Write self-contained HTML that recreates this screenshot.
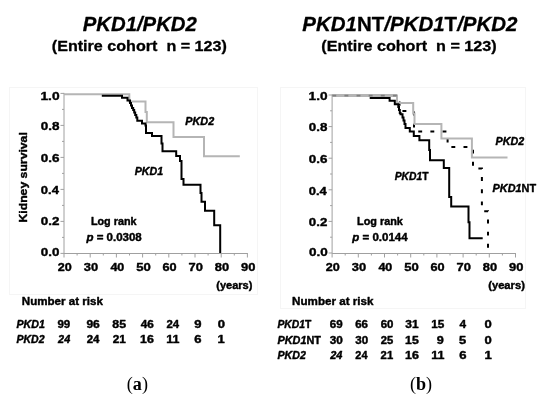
<!DOCTYPE html>
<html><head><meta charset="utf-8"><title>Kidney survival curves</title>
<style>
html,body{margin:0;padding:0;background:#fff;}
svg{display:block;}
text{fill:#000;white-space:pre;}
</style></head>
<body>
<svg width="550" height="400" viewBox="0 0 550 400">
<rect x="0" y="0" width="550" height="400" fill="#fff"/>
<rect x="9.5" y="87.5" width="248" height="207" fill="none" stroke="#f5f5f5" stroke-width="1"/>
<rect x="280.5" y="87.5" width="245" height="221" fill="none" stroke="#f5f5f5" stroke-width="1"/>
<path d="M64.00 92.90V257.50" stroke="#a0a0a0" stroke-width="1" fill="none"/>
<path d="M64.00 253.50H247.90" stroke="#a0a0a0" stroke-width="1" fill="none"/>
<path d="M60.50 253.40H64.00M62.00 237.40H64.00M60.50 221.40H64.00M62.00 205.40H64.00M60.50 189.40H64.00M62.00 173.40H64.00M60.50 157.40H64.00M62.00 141.40H64.00M60.50 125.40H64.00M62.00 109.40H64.00M60.50 93.40H64.00M77.10 253.50V255.50M90.20 253.50V257.50M103.30 253.50V255.50M116.40 253.50V257.50M129.50 253.50V255.50M142.60 253.50V257.50M155.70 253.50V255.50M168.80 253.50V257.50M181.90 253.50V255.50M195.00 253.50V257.50M208.10 253.50V255.50M221.20 253.50V257.50M234.30 253.50V255.50M247.40 253.50V257.50" stroke="#a0a0a0" stroke-width="1" fill="none"/>
<path d="M332.10 94.50V257.50" stroke="#a0a0a0" stroke-width="1" fill="none"/>
<path d="M332.10 253.50H516.00" stroke="#a0a0a0" stroke-width="1" fill="none"/>
<path d="M328.60 253.00H332.10M330.10 237.20H332.10M328.60 221.40H332.10M330.10 205.60H332.10M328.60 189.80H332.10M330.10 174.00H332.10M328.60 158.20H332.10M330.10 142.40H332.10M328.60 126.60H332.10M330.10 110.80H332.10M328.60 95.00H332.10M345.20 253.50V255.50M358.30 253.50V257.50M371.40 253.50V255.50M384.50 253.50V257.50M397.60 253.50V255.50M410.70 253.50V257.50M423.80 253.50V255.50M436.90 253.50V257.50M450.00 253.50V255.50M463.10 253.50V257.50M476.20 253.50V255.50M489.30 253.50V257.50M502.40 253.50V255.50M515.50 253.50V257.50" stroke="#a0a0a0" stroke-width="1" fill="none"/>
<path d="M64 94.2H129.3V101.6H145.5V111.9H146.8V122.2H173.5V137.0H204V156.3H239.8" stroke="#b5b5b5" stroke-width="2" fill="none"/>
<path d="M101.8 95.8H122V97.8H127.5V100.5H130V103H131V105.5H132V108H133.2V110H134.2V112.5H135.2V115H136.3V117.5H137.3V120.7H142V123.4H145.5V125.5H146V133H152V136H161.5V143.5H162.5V151.2H176.2V155.9H180V161H181.5V179H183.5V184.7H200.5V193H201.5V201.8H205V210.8H214.2V225.2H220.2V253" stroke="#000" stroke-width="2" fill="none"/>
<path d="M397 95.6V102.5H399.5V111H414V131.6H447.6V147H473V168.5H481.9V211.2H488V253" stroke="#000" stroke-width="2" fill="none" stroke-dasharray="3.9 8.23" stroke-dashoffset="76.18"/>
<path d="M332 95.6H397V102.9H413.2V113.4H414.5V124.0H441.4V138.5H471.9V157.4H507.5" stroke="#b5b5b5" stroke-width="2" fill="none"/>
<path d="M332 95.5H397" stroke="#b5b5b5" stroke-width="3" fill="none"/>
<path d="M369.7 98.1H389.6V100.7H394.8V104.2H398.3V107H399V110H399.8V113H400.5V114.3H402.5V117.5H403.5V120.5H404.5V124H405.5V128H409.8V131.5H413.8V136H419.4V140.3H429.2V150H430V160.2H443.8V168H449.2V197H451.2V206.6H468.5V222.2H469.5V238.3H482.7" stroke="#000" stroke-width="2" fill="none"/>
<path d="M332 95.6H397" stroke="#6a6a6a" stroke-width="1.6" fill="none" stroke-dasharray="3.9 8.23" stroke-dashoffset="11.83" opacity="0.7"/>
<text id="L_t1" x="82.71" y="31.00" font-size="20.00" textLength="114.18" lengthAdjust="spacingAndGlyphs" style="font-family:'Liberation Sans', Arial, sans-serif;font-weight:bold;font-style:italic;stroke:#000;stroke-width:0.3px;stroke-linejoin:round">PKD1/PKD2</text>
<text id="R_t1" x="302.25" y="31.00" font-size="20.00" textLength="215.27" lengthAdjust="spacingAndGlyphs" style="font-family:'Liberation Sans', Arial, sans-serif;font-weight:bold;font-style:italic;stroke:#000;stroke-width:0.3px;stroke-linejoin:round"><tspan style="font-style:italic;">PKD1</tspan><tspan style="font-style:normal;">NT</tspan><tspan style="font-style:italic;">/PKD1</tspan><tspan style="font-style:normal;">T</tspan><tspan style="font-style:italic;">/PKD2</tspan></text>
<text id="L_t2" x="51.80" y="51.00" font-size="14.70" textLength="175.06" lengthAdjust="spacingAndGlyphs" style="font-family:'Liberation Sans', Arial, sans-serif;font-weight:bold;font-style:normal;stroke:#000;stroke-width:0.3px;stroke-linejoin:round">(Entire cohort&#160; n = 123)</text>
<text id="R_t2" x="321.30" y="51.00" font-size="14.70" textLength="175.38" lengthAdjust="spacingAndGlyphs" style="font-family:'Liberation Sans', Arial, sans-serif;font-weight:bold;font-style:normal;stroke:#000;stroke-width:0.3px;stroke-linejoin:round">(Entire cohort&#160; n = 123)</text>
<text id="L_y0" x="40.75" y="256.00" font-size="11.60" textLength="18.62" lengthAdjust="spacingAndGlyphs" style="font-family:'Liberation Sans', Arial, sans-serif;font-weight:bold;font-style:normal;stroke:#000;stroke-width:0.4px;stroke-linejoin:round">0.0</text>
<text id="L_y1" x="40.76" y="225.00" font-size="11.60" textLength="18.65" lengthAdjust="spacingAndGlyphs" style="font-family:'Liberation Sans', Arial, sans-serif;font-weight:bold;font-style:normal;stroke:#000;stroke-width:0.4px;stroke-linejoin:round">0.2</text>
<text id="L_y2" x="40.83" y="194.00" font-size="11.60" textLength="18.09" lengthAdjust="spacingAndGlyphs" style="font-family:'Liberation Sans', Arial, sans-serif;font-weight:bold;font-style:normal;stroke:#000;stroke-width:0.4px;stroke-linejoin:round">0.4</text>
<text id="L_y3" x="40.77" y="162.00" font-size="11.60" textLength="18.70" lengthAdjust="spacingAndGlyphs" style="font-family:'Liberation Sans', Arial, sans-serif;font-weight:bold;font-style:normal;stroke:#000;stroke-width:0.4px;stroke-linejoin:round">0.6</text>
<text id="L_y4" x="40.78" y="130.00" font-size="11.60" textLength="18.68" lengthAdjust="spacingAndGlyphs" style="font-family:'Liberation Sans', Arial, sans-serif;font-weight:bold;font-style:normal;stroke:#000;stroke-width:0.4px;stroke-linejoin:round">0.8</text>
<text id="L_y5" x="40.47" y="100.00" font-size="11.60" textLength="19.13" lengthAdjust="spacingAndGlyphs" style="font-family:'Liberation Sans', Arial, sans-serif;font-weight:bold;font-style:normal;stroke:#000;stroke-width:0.4px;stroke-linejoin:round">1.0</text>
<text id="R_y0" x="308.91" y="256.00" font-size="11.60" textLength="18.72" lengthAdjust="spacingAndGlyphs" style="font-family:'Liberation Sans', Arial, sans-serif;font-weight:bold;font-style:normal;stroke:#000;stroke-width:0.4px;stroke-linejoin:round">0.0</text>
<text id="R_y1" x="308.82" y="226.00" font-size="11.60" textLength="18.49" lengthAdjust="spacingAndGlyphs" style="font-family:'Liberation Sans', Arial, sans-serif;font-weight:bold;font-style:normal;stroke:#000;stroke-width:0.4px;stroke-linejoin:round">0.2</text>
<text id="R_y2" x="308.81" y="195.00" font-size="11.60" textLength="18.04" lengthAdjust="spacingAndGlyphs" style="font-family:'Liberation Sans', Arial, sans-serif;font-weight:bold;font-style:normal;stroke:#000;stroke-width:0.4px;stroke-linejoin:round">0.4</text>
<text id="R_y3" x="308.80" y="163.00" font-size="11.60" textLength="18.62" lengthAdjust="spacingAndGlyphs" style="font-family:'Liberation Sans', Arial, sans-serif;font-weight:bold;font-style:normal;stroke:#000;stroke-width:0.4px;stroke-linejoin:round">0.6</text>
<text id="R_y4" x="308.82" y="131.00" font-size="11.60" textLength="18.55" lengthAdjust="spacingAndGlyphs" style="font-family:'Liberation Sans', Arial, sans-serif;font-weight:bold;font-style:normal;stroke:#000;stroke-width:0.4px;stroke-linejoin:round">0.8</text>
<text id="R_y5" x="308.58" y="100.00" font-size="11.60" textLength="18.95" lengthAdjust="spacingAndGlyphs" style="font-family:'Liberation Sans', Arial, sans-serif;font-weight:bold;font-style:normal;stroke:#000;stroke-width:0.4px;stroke-linejoin:round">1.0</text>
<text id="L_x0" x="57.80" y="271.00" font-size="11.30" textLength="14.03" lengthAdjust="spacingAndGlyphs" style="font-family:'Liberation Sans', Arial, sans-serif;font-weight:bold;font-style:normal;stroke:#000;stroke-width:0.4px;stroke-linejoin:round">20</text>
<text id="L_x1" x="83.75" y="271.00" font-size="11.30" textLength="14.33" lengthAdjust="spacingAndGlyphs" style="font-family:'Liberation Sans', Arial, sans-serif;font-weight:bold;font-style:normal;stroke:#000;stroke-width:0.4px;stroke-linejoin:round">30</text>
<text id="L_x2" x="110.42" y="271.00" font-size="11.30" textLength="13.93" lengthAdjust="spacingAndGlyphs" style="font-family:'Liberation Sans', Arial, sans-serif;font-weight:bold;font-style:normal;stroke:#000;stroke-width:0.4px;stroke-linejoin:round">40</text>
<text id="L_x3" x="136.16" y="271.00" font-size="11.30" textLength="14.58" lengthAdjust="spacingAndGlyphs" style="font-family:'Liberation Sans', Arial, sans-serif;font-weight:bold;font-style:normal;stroke:#000;stroke-width:0.4px;stroke-linejoin:round">50</text>
<text id="L_x4" x="162.51" y="271.00" font-size="11.30" textLength="14.15" lengthAdjust="spacingAndGlyphs" style="font-family:'Liberation Sans', Arial, sans-serif;font-weight:bold;font-style:normal;stroke:#000;stroke-width:0.4px;stroke-linejoin:round">60</text>
<text id="L_x5" x="188.51" y="271.00" font-size="11.30" textLength="14.36" lengthAdjust="spacingAndGlyphs" style="font-family:'Liberation Sans', Arial, sans-serif;font-weight:bold;font-style:normal;stroke:#000;stroke-width:0.4px;stroke-linejoin:round">70</text>
<text id="L_x6" x="214.79" y="271.00" font-size="11.30" textLength="14.28" lengthAdjust="spacingAndGlyphs" style="font-family:'Liberation Sans', Arial, sans-serif;font-weight:bold;font-style:normal;stroke:#000;stroke-width:0.4px;stroke-linejoin:round">80</text>
<text id="L_x7" x="241.14" y="271.00" font-size="11.30" textLength="14.38" lengthAdjust="spacingAndGlyphs" style="font-family:'Liberation Sans', Arial, sans-serif;font-weight:bold;font-style:normal;stroke:#000;stroke-width:0.4px;stroke-linejoin:round">90</text>
<text id="R_x0" x="325.80" y="271.00" font-size="11.30" textLength="14.03" lengthAdjust="spacingAndGlyphs" style="font-family:'Liberation Sans', Arial, sans-serif;font-weight:bold;font-style:normal;stroke:#000;stroke-width:0.4px;stroke-linejoin:round">20</text>
<text id="R_x1" x="351.75" y="271.00" font-size="11.30" textLength="14.33" lengthAdjust="spacingAndGlyphs" style="font-family:'Liberation Sans', Arial, sans-serif;font-weight:bold;font-style:normal;stroke:#000;stroke-width:0.4px;stroke-linejoin:round">30</text>
<text id="R_x2" x="378.42" y="271.00" font-size="11.30" textLength="13.93" lengthAdjust="spacingAndGlyphs" style="font-family:'Liberation Sans', Arial, sans-serif;font-weight:bold;font-style:normal;stroke:#000;stroke-width:0.4px;stroke-linejoin:round">40</text>
<text id="R_x3" x="404.16" y="271.00" font-size="11.30" textLength="14.58" lengthAdjust="spacingAndGlyphs" style="font-family:'Liberation Sans', Arial, sans-serif;font-weight:bold;font-style:normal;stroke:#000;stroke-width:0.4px;stroke-linejoin:round">50</text>
<text id="R_x4" x="430.51" y="271.00" font-size="11.30" textLength="14.15" lengthAdjust="spacingAndGlyphs" style="font-family:'Liberation Sans', Arial, sans-serif;font-weight:bold;font-style:normal;stroke:#000;stroke-width:0.4px;stroke-linejoin:round">60</text>
<text id="R_x5" x="456.51" y="271.00" font-size="11.30" textLength="14.36" lengthAdjust="spacingAndGlyphs" style="font-family:'Liberation Sans', Arial, sans-serif;font-weight:bold;font-style:normal;stroke:#000;stroke-width:0.4px;stroke-linejoin:round">70</text>
<text id="R_x6" x="482.79" y="271.00" font-size="11.30" textLength="14.28" lengthAdjust="spacingAndGlyphs" style="font-family:'Liberation Sans', Arial, sans-serif;font-weight:bold;font-style:normal;stroke:#000;stroke-width:0.4px;stroke-linejoin:round">80</text>
<text id="R_x7" x="509.14" y="271.00" font-size="11.30" textLength="14.38" lengthAdjust="spacingAndGlyphs" style="font-family:'Liberation Sans', Arial, sans-serif;font-weight:bold;font-style:normal;stroke:#000;stroke-width:0.4px;stroke-linejoin:round">90</text>
<text id="L_ylab" x="27.35" y="222.54" font-size="11.30" textLength="90.37" lengthAdjust="spacingAndGlyphs" transform="rotate(-90 27.35 222.54)" style="font-family:'Liberation Sans', Arial, sans-serif;font-weight:bold;font-style:normal;stroke:#000;stroke-width:0.4px;stroke-linejoin:round">Kidney survival</text>
<text id="L_pkd2" x="185.37" y="125.00" font-size="10.60" textLength="28.79" lengthAdjust="spacingAndGlyphs" style="font-family:'Liberation Sans', Arial, sans-serif;font-weight:bold;font-style:italic;stroke:#000;stroke-width:0.4px;stroke-linejoin:round">PKD2</text>
<text id="L_pkd1" x="134.66" y="175.00" font-size="10.60" textLength="28.45" lengthAdjust="spacingAndGlyphs" style="font-family:'Liberation Sans', Arial, sans-serif;font-weight:bold;font-style:italic;stroke:#000;stroke-width:0.4px;stroke-linejoin:round">PKD1</text>
<text id="R_pkd2" x="495.64" y="145.00" font-size="10.60" textLength="28.61" lengthAdjust="spacingAndGlyphs" style="font-family:'Liberation Sans', Arial, sans-serif;font-weight:bold;font-style:italic;stroke:#000;stroke-width:0.4px;stroke-linejoin:round">PKD2</text>
<text id="R_pkd1t" x="394.69" y="180.00" font-size="10.60" textLength="33.93" lengthAdjust="spacingAndGlyphs" style="font-family:'Liberation Sans', Arial, sans-serif;font-weight:bold;font-style:normal;stroke:#000;stroke-width:0.4px;stroke-linejoin:round"><tspan style="font-style:italic;">PKD1</tspan><tspan style="font-style:normal;">T</tspan></text>
<text id="R_pkd1nt" x="492.53" y="192.00" font-size="10.60" textLength="43.61" lengthAdjust="spacingAndGlyphs" style="font-family:'Liberation Sans', Arial, sans-serif;font-weight:bold;font-style:normal;stroke:#000;stroke-width:0.4px;stroke-linejoin:round"><tspan style="font-style:italic;">PKD1</tspan><tspan style="font-style:normal;">NT</tspan></text>
<text id="L_log" x="90.93" y="225.00" font-size="10.30" textLength="45.58" lengthAdjust="spacingAndGlyphs" style="font-family:'Liberation Sans', Arial, sans-serif;font-weight:bold;font-style:normal;stroke:#000;stroke-width:0.4px;stroke-linejoin:round">Log rank</text>
<text id="L_p" x="86.49" y="241.00" font-size="10.30" textLength="55.27" lengthAdjust="spacingAndGlyphs" style="font-family:'Liberation Sans', Arial, sans-serif;font-weight:bold;font-style:normal;stroke:#000;stroke-width:0.4px;stroke-linejoin:round"><tspan style="font-style:italic;">p</tspan><tspan style="font-style:normal;"> = 0.0308</tspan></text>
<text id="R_log" x="357.08" y="225.00" font-size="10.30" textLength="45.79" lengthAdjust="spacingAndGlyphs" style="font-family:'Liberation Sans', Arial, sans-serif;font-weight:bold;font-style:normal;stroke:#000;stroke-width:0.4px;stroke-linejoin:round">Log rank</text>
<text id="R_p" x="352.25" y="241.00" font-size="10.30" textLength="55.43" lengthAdjust="spacingAndGlyphs" style="font-family:'Liberation Sans', Arial, sans-serif;font-weight:bold;font-style:normal;stroke:#000;stroke-width:0.4px;stroke-linejoin:round"><tspan style="font-style:italic;">p</tspan><tspan style="font-style:normal;"> = 0.0144</tspan></text>
<text id="L_yrs" x="216.30" y="289.00" font-size="10.80" textLength="36.11" lengthAdjust="spacingAndGlyphs" style="font-family:'Liberation Sans', Arial, sans-serif;font-weight:bold;font-style:normal;stroke:#000;stroke-width:0.4px;stroke-linejoin:round">(years)</text>
<text id="R_yrs" x="488.20" y="289.00" font-size="10.80" textLength="36.71" lengthAdjust="spacingAndGlyphs" style="font-family:'Liberation Sans', Arial, sans-serif;font-weight:bold;font-style:normal;stroke:#000;stroke-width:0.4px;stroke-linejoin:round">(years)</text>
<text id="L_nar" x="21.80" y="305.00" font-size="11.00" textLength="81.10" lengthAdjust="spacingAndGlyphs" style="font-family:'Liberation Sans', Arial, sans-serif;font-weight:bold;font-style:normal;stroke:#000;stroke-width:0.4px;stroke-linejoin:round">Number at risk</text>
<text id="R_nar" x="292.14" y="305.00" font-size="11.00" textLength="81.38" lengthAdjust="spacingAndGlyphs" style="font-family:'Liberation Sans', Arial, sans-serif;font-weight:bold;font-style:normal;stroke:#000;stroke-width:0.4px;stroke-linejoin:round">Number at risk</text>
<text id="L_r1" x="16.52" y="328.00" font-size="10.20" textLength="28.38" lengthAdjust="spacingAndGlyphs" style="font-family:'Liberation Sans', Arial, sans-serif;font-weight:bold;font-style:italic;stroke:#000;stroke-width:0.4px;stroke-linejoin:round">PKD1</text>
<text id="L_r2" x="16.47" y="343.00" font-size="10.20" textLength="28.01" lengthAdjust="spacingAndGlyphs" style="font-family:'Liberation Sans', Arial, sans-serif;font-weight:bold;font-style:italic;stroke:#000;stroke-width:0.4px;stroke-linejoin:round">PKD2</text>
<text id="L_r1c0" x="57.48" y="328.00" font-size="10.20" textLength="12.81" lengthAdjust="spacingAndGlyphs" style="font-family:'Liberation Sans', Arial, sans-serif;font-weight:bold;font-style:normal;stroke:#000;stroke-width:0.4px;stroke-linejoin:round">99</text>
<text id="L_r2c0" x="58.13" y="343.00" font-size="10.20" textLength="12.09" lengthAdjust="spacingAndGlyphs" style="font-family:'Liberation Sans', Arial, sans-serif;font-weight:bold;font-style:italic;stroke:#000;stroke-width:0.4px;stroke-linejoin:round">24</text>
<text id="L_r1c1" x="86.40" y="328.00" font-size="10.20" textLength="13.37" lengthAdjust="spacingAndGlyphs" style="font-family:'Liberation Sans', Arial, sans-serif;font-weight:bold;font-style:normal;stroke:#000;stroke-width:0.4px;stroke-linejoin:round">96</text>
<text id="L_r2c1" x="86.71" y="343.00" font-size="10.20" textLength="12.73" lengthAdjust="spacingAndGlyphs" style="font-family:'Liberation Sans', Arial, sans-serif;font-weight:bold;font-style:normal;stroke:#000;stroke-width:0.4px;stroke-linejoin:round">24</text>
<text id="L_r1c2" x="112.34" y="328.00" font-size="10.20" textLength="13.70" lengthAdjust="spacingAndGlyphs" style="font-family:'Liberation Sans', Arial, sans-serif;font-weight:bold;font-style:normal;stroke:#000;stroke-width:0.4px;stroke-linejoin:round">85</text>
<text id="L_r2c2" x="112.71" y="343.00" font-size="10.20" textLength="13.18" lengthAdjust="spacingAndGlyphs" style="font-family:'Liberation Sans', Arial, sans-serif;font-weight:bold;font-style:normal;stroke:#000;stroke-width:0.4px;stroke-linejoin:round">21</text>
<text id="L_r1c3" x="140.76" y="328.00" font-size="10.20" textLength="13.02" lengthAdjust="spacingAndGlyphs" style="font-family:'Liberation Sans', Arial, sans-serif;font-weight:bold;font-style:normal;stroke:#000;stroke-width:0.4px;stroke-linejoin:round">46</text>
<text id="L_r2c3" x="140.05" y="343.00" font-size="10.20" textLength="13.73" lengthAdjust="spacingAndGlyphs" style="font-family:'Liberation Sans', Arial, sans-serif;font-weight:bold;font-style:normal;stroke:#000;stroke-width:0.4px;stroke-linejoin:round">16</text>
<text id="L_r1c4" x="166.42" y="328.00" font-size="10.20" textLength="12.64" lengthAdjust="spacingAndGlyphs" style="font-family:'Liberation Sans', Arial, sans-serif;font-weight:bold;font-style:normal;stroke:#000;stroke-width:0.4px;stroke-linejoin:round">24</text>
<text id="L_r2c4" x="166.27" y="343.00" font-size="10.20" textLength="13.20" lengthAdjust="spacingAndGlyphs" style="font-family:'Liberation Sans', Arial, sans-serif;font-weight:bold;font-style:normal;stroke:#000;stroke-width:0.4px;stroke-linejoin:round">11</text>
<text id="L_r1c5" x="194.16" y="328.00" font-size="10.20" textLength="7.26" lengthAdjust="spacingAndGlyphs" style="font-family:'Liberation Sans', Arial, sans-serif;font-weight:bold;font-style:normal;stroke:#000;stroke-width:0.4px;stroke-linejoin:round">9</text>
<text id="L_r2c5" x="194.16" y="343.00" font-size="10.20" textLength="7.24" lengthAdjust="spacingAndGlyphs" style="font-family:'Liberation Sans', Arial, sans-serif;font-weight:bold;font-style:normal;stroke:#000;stroke-width:0.4px;stroke-linejoin:round">6</text>
<text id="L_r1c6" x="217.67" y="328.00" font-size="10.20" textLength="7.25" lengthAdjust="spacingAndGlyphs" style="font-family:'Liberation Sans', Arial, sans-serif;font-weight:bold;font-style:normal;stroke:#000;stroke-width:0.4px;stroke-linejoin:round">0</text>
<text id="L_r2c6" x="217.51" y="343.00" font-size="10.20" textLength="7.22" lengthAdjust="spacingAndGlyphs" style="font-family:'Liberation Sans', Arial, sans-serif;font-weight:bold;font-style:normal;stroke:#000;stroke-width:0.4px;stroke-linejoin:round">1</text>
<text id="R_r1" x="277.48" y="328.00" font-size="10.20" textLength="33.95" lengthAdjust="spacingAndGlyphs" style="font-family:'Liberation Sans', Arial, sans-serif;font-weight:bold;font-style:normal;stroke:#000;stroke-width:0.4px;stroke-linejoin:round"><tspan style="font-style:italic;">PKD1</tspan><tspan style="font-style:normal;">T</tspan></text>
<text id="R_r2" x="277.49" y="344.00" font-size="10.20" textLength="43.51" lengthAdjust="spacingAndGlyphs" style="font-family:'Liberation Sans', Arial, sans-serif;font-weight:bold;font-style:normal;stroke:#000;stroke-width:0.4px;stroke-linejoin:round"><tspan style="font-style:italic;">PKD1</tspan><tspan style="font-style:normal;">NT</tspan></text>
<text id="R_r3" x="277.51" y="359.00" font-size="10.20" textLength="28.33" lengthAdjust="spacingAndGlyphs" style="font-family:'Liberation Sans', Arial, sans-serif;font-weight:bold;font-style:italic;stroke:#000;stroke-width:0.4px;stroke-linejoin:round">PKD2</text>
<text id="R_r1c0" x="329.78" y="328.00" font-size="10.20" textLength="12.85" lengthAdjust="spacingAndGlyphs" style="font-family:'Liberation Sans', Arial, sans-serif;font-weight:bold;font-style:normal;stroke:#000;stroke-width:0.4px;stroke-linejoin:round">69</text>
<text id="R_r1c1" x="355.22" y="328.00" font-size="10.20" textLength="12.78" lengthAdjust="spacingAndGlyphs" style="font-family:'Liberation Sans', Arial, sans-serif;font-weight:bold;font-style:normal;stroke:#000;stroke-width:0.4px;stroke-linejoin:round">66</text>
<text id="R_r1c2" x="380.67" y="328.00" font-size="10.20" textLength="12.77" lengthAdjust="spacingAndGlyphs" style="font-family:'Liberation Sans', Arial, sans-serif;font-weight:bold;font-style:normal;stroke:#000;stroke-width:0.4px;stroke-linejoin:round">60</text>
<text id="R_r1c3" x="405.34" y="328.00" font-size="10.20" textLength="13.28" lengthAdjust="spacingAndGlyphs" style="font-family:'Liberation Sans', Arial, sans-serif;font-weight:bold;font-style:normal;stroke:#000;stroke-width:0.4px;stroke-linejoin:round">31</text>
<text id="R_r1c4" x="431.32" y="328.00" font-size="10.20" textLength="13.10" lengthAdjust="spacingAndGlyphs" style="font-family:'Liberation Sans', Arial, sans-serif;font-weight:bold;font-style:normal;stroke:#000;stroke-width:0.4px;stroke-linejoin:round">15</text>
<text id="R_r1c5" x="459.44" y="328.00" font-size="10.20" textLength="6.60" lengthAdjust="spacingAndGlyphs" style="font-family:'Liberation Sans', Arial, sans-serif;font-weight:bold;font-style:normal;stroke:#000;stroke-width:0.4px;stroke-linejoin:round">4</text>
<text id="R_r1c6" x="484.49" y="328.00" font-size="10.20" textLength="7.25" lengthAdjust="spacingAndGlyphs" style="font-family:'Liberation Sans', Arial, sans-serif;font-weight:bold;font-style:normal;stroke:#000;stroke-width:0.4px;stroke-linejoin:round">0</text>
<text id="R_r2c0" x="329.67" y="344.00" font-size="10.20" textLength="13.08" lengthAdjust="spacingAndGlyphs" style="font-family:'Liberation Sans', Arial, sans-serif;font-weight:bold;font-style:normal;stroke:#000;stroke-width:0.4px;stroke-linejoin:round">30</text>
<text id="R_r2c1" x="355.21" y="344.00" font-size="10.20" textLength="12.89" lengthAdjust="spacingAndGlyphs" style="font-family:'Liberation Sans', Arial, sans-serif;font-weight:bold;font-style:normal;stroke:#000;stroke-width:0.4px;stroke-linejoin:round">30</text>
<text id="R_r2c2" x="380.71" y="344.00" font-size="10.20" textLength="12.49" lengthAdjust="spacingAndGlyphs" style="font-family:'Liberation Sans', Arial, sans-serif;font-weight:bold;font-style:normal;stroke:#000;stroke-width:0.4px;stroke-linejoin:round">25</text>
<text id="R_r2c3" x="405.10" y="344.00" font-size="10.20" textLength="13.64" lengthAdjust="spacingAndGlyphs" style="font-family:'Liberation Sans', Arial, sans-serif;font-weight:bold;font-style:normal;stroke:#000;stroke-width:0.4px;stroke-linejoin:round">15</text>
<text id="R_r2c4" x="436.78" y="344.00" font-size="10.20" textLength="7.02" lengthAdjust="spacingAndGlyphs" style="font-family:'Liberation Sans', Arial, sans-serif;font-weight:bold;font-style:normal;stroke:#000;stroke-width:0.4px;stroke-linejoin:round">9</text>
<text id="R_r2c5" x="458.95" y="344.00" font-size="10.20" textLength="7.15" lengthAdjust="spacingAndGlyphs" style="font-family:'Liberation Sans', Arial, sans-serif;font-weight:bold;font-style:normal;stroke:#000;stroke-width:0.4px;stroke-linejoin:round">5</text>
<text id="R_r2c6" x="484.49" y="344.00" font-size="10.20" textLength="7.25" lengthAdjust="spacingAndGlyphs" style="font-family:'Liberation Sans', Arial, sans-serif;font-weight:bold;font-style:normal;stroke:#000;stroke-width:0.4px;stroke-linejoin:round">0</text>
<text id="R_r3c0" x="330.26" y="359.00" font-size="10.20" textLength="12.19" lengthAdjust="spacingAndGlyphs" style="font-family:'Liberation Sans', Arial, sans-serif;font-weight:bold;font-style:italic;stroke:#000;stroke-width:0.4px;stroke-linejoin:round">24</text>
<text id="R_r3c1" x="355.38" y="359.00" font-size="10.20" textLength="12.16" lengthAdjust="spacingAndGlyphs" style="font-family:'Liberation Sans', Arial, sans-serif;font-weight:bold;font-style:normal;stroke:#000;stroke-width:0.4px;stroke-linejoin:round">24</text>
<text id="R_r3c2" x="380.63" y="359.00" font-size="10.20" textLength="12.52" lengthAdjust="spacingAndGlyphs" style="font-family:'Liberation Sans', Arial, sans-serif;font-weight:bold;font-style:normal;stroke:#000;stroke-width:0.4px;stroke-linejoin:round">21</text>
<text id="R_r3c3" x="405.01" y="359.00" font-size="10.20" textLength="13.83" lengthAdjust="spacingAndGlyphs" style="font-family:'Liberation Sans', Arial, sans-serif;font-weight:bold;font-style:normal;stroke:#000;stroke-width:0.4px;stroke-linejoin:round">16</text>
<text id="R_r3c4" x="431.27" y="359.00" font-size="10.20" textLength="13.20" lengthAdjust="spacingAndGlyphs" style="font-family:'Liberation Sans', Arial, sans-serif;font-weight:bold;font-style:normal;stroke:#000;stroke-width:0.4px;stroke-linejoin:round">11</text>
<text id="R_r3c5" x="459.17" y="359.00" font-size="10.20" textLength="7.26" lengthAdjust="spacingAndGlyphs" style="font-family:'Liberation Sans', Arial, sans-serif;font-weight:bold;font-style:normal;stroke:#000;stroke-width:0.4px;stroke-linejoin:round">6</text>
<text id="R_r3c6" x="484.41" y="359.00" font-size="10.20" textLength="7.33" lengthAdjust="spacingAndGlyphs" style="font-family:'Liberation Sans', Arial, sans-serif;font-weight:bold;font-style:normal;stroke:#000;stroke-width:0.4px;stroke-linejoin:round">1</text>
<text id="L_lab" x="126.80" y="390.00" font-size="18.00" textLength="21.17" lengthAdjust="spacingAndGlyphs" style="font-family:'Liberation Serif', 'Times New Roman', serif;font-weight:normal;font-style:normal;stroke:#000;stroke-width:0.0001px;stroke-linejoin:round"><tspan style="font-weight:normal;">(</tspan><tspan style="font-weight:bold;">a</tspan><tspan style="font-weight:normal;">)</tspan></text>
<text id="R_lab" x="410.00" y="390.00" font-size="18.00" textLength="22.16" lengthAdjust="spacingAndGlyphs" style="font-family:'Liberation Serif', 'Times New Roman', serif;font-weight:normal;font-style:normal;stroke:#000;stroke-width:0.0001px;stroke-linejoin:round"><tspan style="font-weight:normal;">(</tspan><tspan style="font-weight:bold;">b</tspan><tspan style="font-weight:normal;">)</tspan></text>
</svg>
</body></html>
